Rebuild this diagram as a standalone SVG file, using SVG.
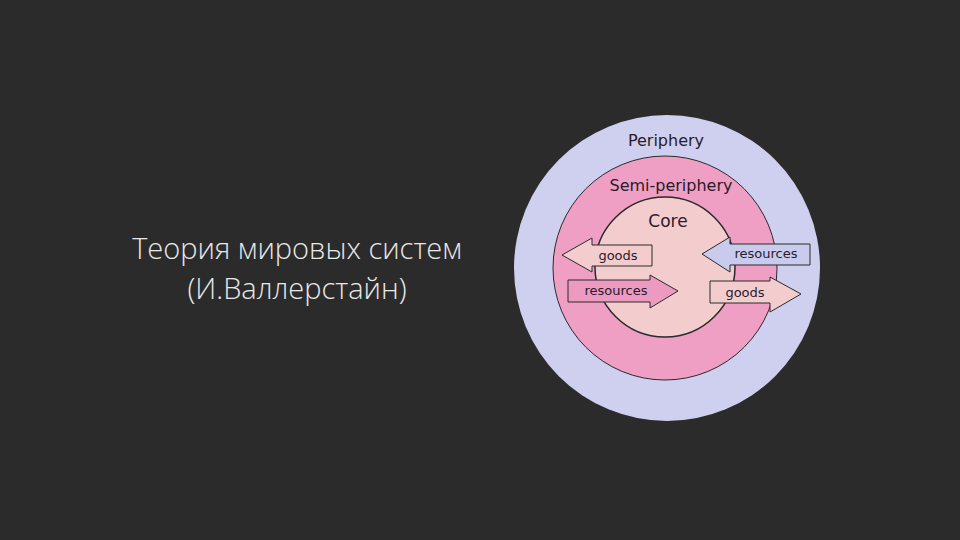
<svg xmlns="http://www.w3.org/2000/svg" width="960" height="540" viewBox="0 0 960 540">
<style>
.t{font-family:"Open Sans","Liberation Sans",sans-serif;fill:#e8e8e8;font-size:29px;text-anchor:middle;font-weight:300}
.l{font-family:"DejaVu Sans",sans-serif;fill:#2a1a2a;text-anchor:middle}
.a{stroke:#2a2a2a;stroke-width:1}
</style>
<rect width="960" height="540" fill="#2b2b2b"/>
<g id="title">
<text class="t" x="297" y="259">Теория мировых систем</text>
<text class="t" x="297" y="299">(И.Валлерстайн)</text>
</g>
<g id="periphery"><circle cx="667" cy="268" r="153" fill="#cfd0ef"/><text class="l" x="666" y="146" font-size="16">Periphery</text></g>
<g id="semi"><circle cx="665" cy="268" r="112" fill="#ef9fc4" stroke="#2a2a2a"/><text class="l" x="671" y="191" font-size="16">Semi-periphery</text></g>
<g id="core"><circle cx="665" cy="267" r="70" fill="#f3cdcd" stroke="#2a2a2a" stroke-width="1.5"/><text class="l" x="668" y="227" font-size="17">Core</text></g>
<g id="connectors">
<g id="goods1"><path class="a" fill="#f3cdcd" d="M562,255 L592,238 L592,245 L652,245 L652,266 L592,266 L592,272 Z"/><text class="l" x="618" y="260" font-size="13">goods</text></g>
<g id="res1"><path class="a" fill="#ec9ac0" d="M568,280 L650,280 L650,275 L678,291 L650,308 L650,302 L568,302 Z"/><text class="l" x="616" y="295" font-size="13">resources</text></g>
<g id="res2"><path class="a" fill="#c8cbeb" d="M702,254 L730,237 L730,244 L810,244 L810,265 L730,265 L730,272 Z"/><text class="l" x="766" y="258" font-size="13">resources</text></g>
<g id="goods2"><path class="a" fill="#f3cdcd" d="M710,281 L770,281 L770,277 L801,294 L770,312 L770,303 L710,303 Z"/><text class="l" x="745" y="297" font-size="13">goods</text></g>
</g>
</svg>
